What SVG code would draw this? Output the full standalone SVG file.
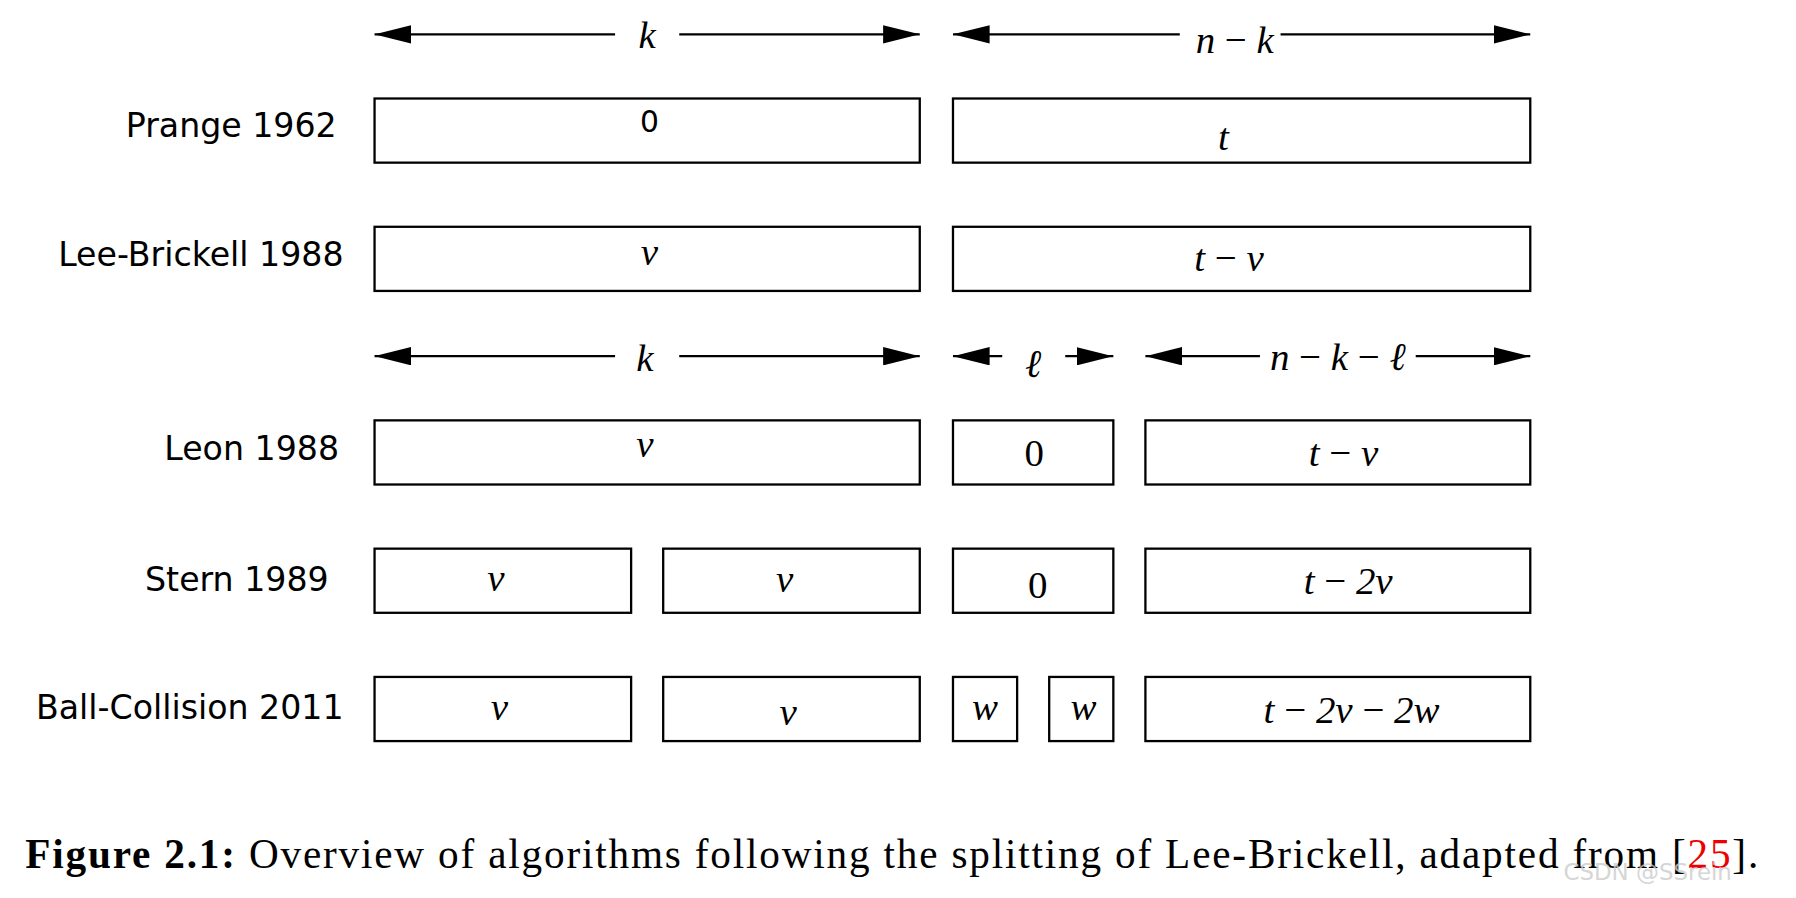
<svg xmlns="http://www.w3.org/2000/svg" width="1796" height="898" viewBox="0 0 1796 898">
<style>
rect.b{fill:#fff;stroke:#000;stroke-width:2}
.lbl{font-family:"DejaVu Sans","Noto Sans",sans-serif;font-size:29px;text-anchor:end}
.m{font-family:"Liberation Serif",serif;font-style:italic;font-size:34px;text-anchor:middle}
.n{font-family:"Liberation Serif",serif;font-size:34px;text-anchor:middle}
.ln{stroke:#000;stroke-width:2;fill:none}
</style>
<defs>
<marker id="ah" viewBox="0 0 32 16" refX="32" refY="8" markerWidth="32" markerHeight="16" markerUnits="userSpaceOnUse" orient="auto-start-reverse"><path d="M0,0 L32,8 L0,16 Z" fill="#000"/></marker>
</defs>
<rect width="1796" height="898" fill="#fff"/>
<g transform="scale(1.14541)">
<g id="connectors">
<line class="ln" x1="327" y1="30" x2="537" y2="30" marker-start="url(#ah)"/>
<line class="ln" x1="593" y1="30" x2="803" y2="30" marker-end="url(#ah)"/>
<line class="ln" x1="832" y1="30" x2="1030" y2="30" marker-start="url(#ah)"/>
<line class="ln" x1="1118" y1="30" x2="1336" y2="30" marker-end="url(#ah)"/>
<line class="ln" x1="327" y1="311" x2="537" y2="311" marker-start="url(#ah)"/>
<line class="ln" x1="593" y1="311" x2="803" y2="311" marker-end="url(#ah)"/>
<line class="ln" x1="832" y1="311" x2="875" y2="311" marker-start="url(#ah)"/>
<line class="ln" x1="930" y1="311" x2="972" y2="311" marker-end="url(#ah)"/>
<line class="ln" x1="1000" y1="311" x2="1100" y2="311" marker-start="url(#ah)"/>
<line class="ln" x1="1236" y1="311" x2="1336" y2="311" marker-end="url(#ah)"/>
</g>
<g id="dims">
<text class="m" x="565" y="42">k</text>
<text class="m" x="1078" y="46">n <tspan font-style="normal">−</tspan> k</text>
<text class="m" x="563" y="324">k</text>
<text class="m" x="902" y="329">ℓ</text>
<text class="m" x="1168" y="323">n <tspan font-style="normal">−</tspan> k <tspan font-style="normal">−</tspan> ℓ</text>
</g>
<g id="prange">
<text class="lbl" x="294" y="120">Prange 1962</text>
<rect class="b" x="327" y="86" width="476" height="56"/>
<rect class="b" x="832" y="86" width="504" height="56"/>
<text x="567" y="115" font-family="DejaVu Sans,sans-serif" font-size="26" text-anchor="middle">0</text>
<text class="m" x="1068" y="131">t</text>
</g>
<g id="leebrickell">
<text class="lbl" x="300" y="232">Lee-Brickell 1988</text>
<rect class="b" x="327" y="198" width="476" height="56"/>
<rect class="b" x="832" y="198" width="504" height="56"/>
<text class="m" x="567" y="231">v</text>
<text class="m" x="1073" y="237">t <tspan font-style="normal">−</tspan> v</text>
</g>
<g id="leon">
<text class="lbl" x="296" y="402">Leon 1988</text>
<rect class="b" x="327" y="367" width="476" height="56"/>
<rect class="b" x="832" y="367" width="140" height="56"/>
<rect class="b" x="1000" y="367" width="336" height="56"/>
<text class="m" x="563" y="399">v</text>
<text class="n" x="903" y="407">0</text>
<text class="m" x="1173" y="407">t <tspan font-style="normal">−</tspan> v</text>
</g>
<g id="stern">
<text class="lbl" x="287" y="516">Stern 1989</text>
<rect class="b" x="327" y="479" width="224" height="56"/>
<rect class="b" x="579" y="479" width="224" height="56"/>
<rect class="b" x="832" y="479" width="140" height="56"/>
<rect class="b" x="1000" y="479" width="336" height="56"/>
<text class="m" x="433" y="516">v</text>
<text class="m" x="685" y="517">v</text>
<text class="n" x="906" y="522">0</text>
<text class="m" x="1177" y="519">t <tspan font-style="normal">−</tspan> 2v</text>
</g>
<g id="ball">
<text class="lbl" x="300" y="628">Ball-Collision 2011</text>
<rect class="b" x="327" y="591" width="224" height="56"/>
<rect class="b" x="579" y="591" width="224" height="56"/>
<rect class="b" x="832" y="591" width="56" height="56"/>
<rect class="b" x="916" y="591" width="56" height="56"/>
<rect class="b" x="1000" y="591" width="336" height="56"/>
<text class="m" x="436" y="629">v</text>
<text class="m" x="688" y="633">v</text>
<text class="m" x="860" y="629">w</text>
<text class="m" x="946" y="629">w</text>
<text class="m" x="1180" y="631">t <tspan font-style="normal">−</tspan> 2v <tspan font-style="normal">−</tspan> 2w</text>
</g>
<g id="caption">
<text x="22" y="758" font-family="Liberation Serif,serif" font-size="36" textLength="1513" lengthAdjust="spacing"><tspan font-weight="bold">Figure 2.1:</tspan> Overview of algorithms following the splitting of Lee-Brickell, adapted from [<tspan fill="#e00">25</tspan>].</text>
<text x="1365" y="768" font-family="DejaVu Sans,sans-serif" font-size="20" fill="#ccc" opacity="0.8">CSDN @SSrein</text>
</g>
</g>
</svg>
